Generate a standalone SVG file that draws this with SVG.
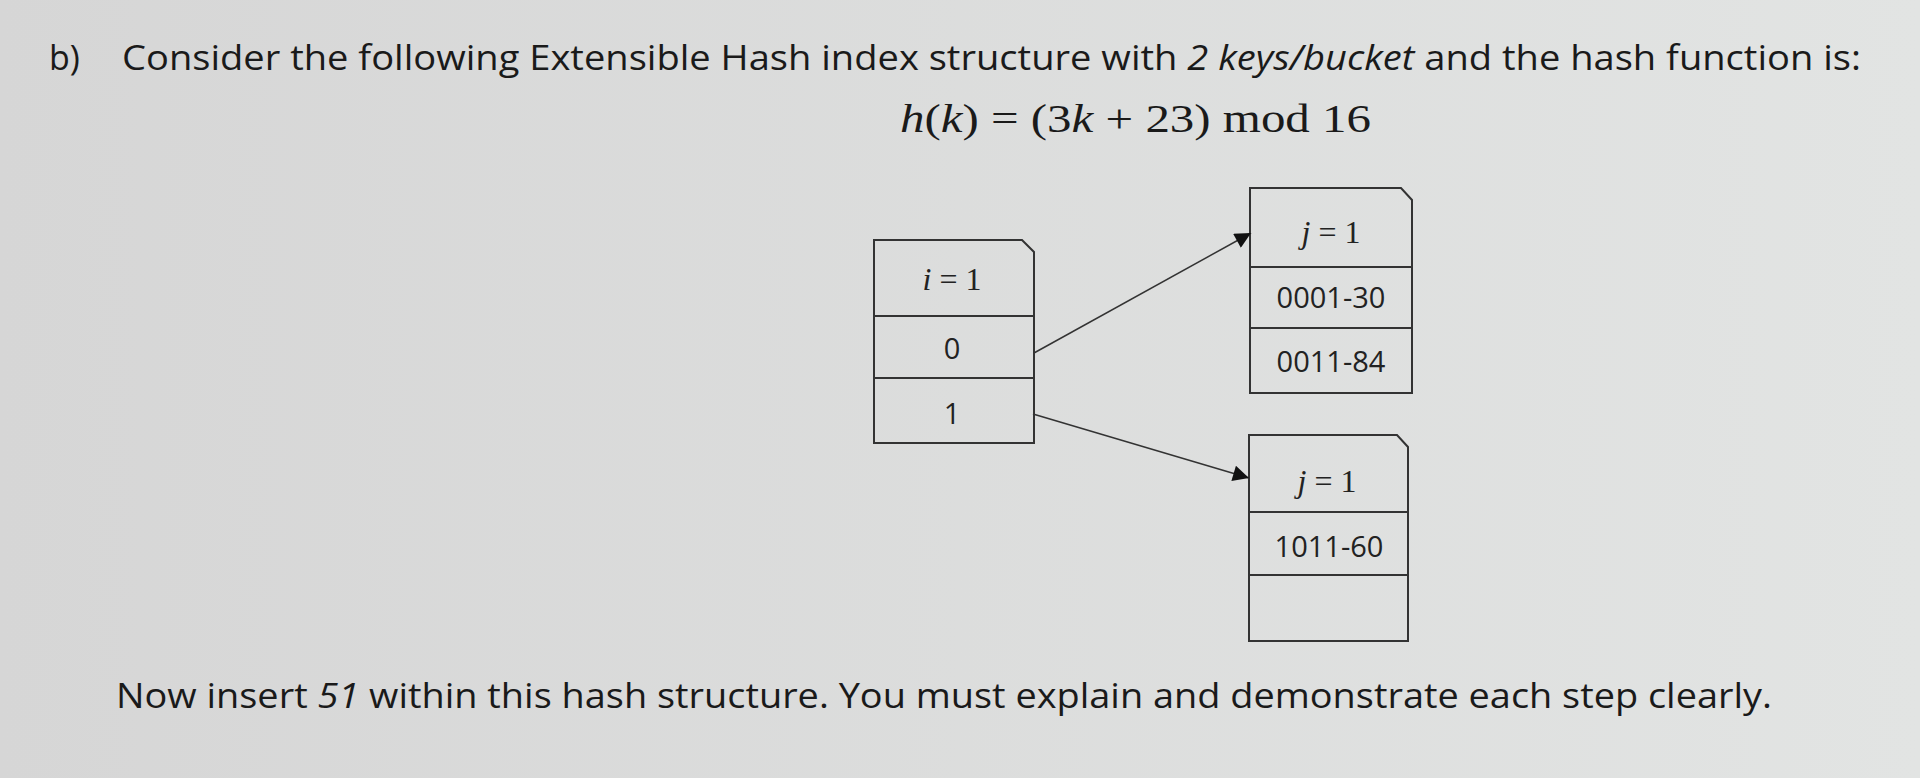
<svg xmlns="http://www.w3.org/2000/svg" width="1920" height="778" viewBox="0 0 1920 778">
<defs>
<linearGradient id="bg" x1="0" y1="0" x2="1" y2="0"><stop offset="0" stop-color="#d6d6d6"/><stop offset="1" stop-color="#e2e4e3"/></linearGradient>
<marker id="ah" viewBox="0 0 10 10" refX="10" refY="5" markerWidth="18" markerHeight="16" markerUnits="userSpaceOnUse" orient="auto"><path d="M0,0L10,5L0,10z" fill="#111"/></marker>
<style>
.t{font-family:"Open Sans","Liberation Sans",sans-serif;fill:#1a1a1a}
.m{font-family:"Liberation Serif",serif;fill:#1a1a1a}
.n{font-family:"Open Sans","Liberation Sans",sans-serif;font-size:29px;fill:#222;text-anchor:middle}
.s{font-family:"Liberation Serif",serif;font-size:32px;fill:#222;text-anchor:middle}
.b{fill:none;stroke:#333;stroke-width:2}
.c{stroke:#333;stroke-width:1.5;fill:none}
</style>
</defs>
<rect width="1920" height="778" fill="url(#bg)"/>
<text class="t" x="49" y="70" font-size="34">b)</text>
<text class="t" x="122" y="70" font-size="34" textLength="1739" lengthAdjust="spacingAndGlyphs">Consider the following Extensible Hash index structure with <tspan font-style="italic">2 keys/bucket</tspan> and the hash function is:</text>
<text class="m" x="900" y="132" font-size="40" textLength="471" lengthAdjust="spacingAndGlyphs"><tspan font-style="italic">h</tspan>(<tspan font-style="italic">k</tspan>) = (3<tspan font-style="italic">k</tspan> + 23) mod 16</text>
<g id="directory">
<path class="b" d="M874,240H1022L1034,252V443H874Z M874,316H1034 M874,378H1034"/>
<text class="s" x="952" y="290"><tspan font-style="italic">i</tspan> = 1</text>
<text class="n" x="952" y="359">0</text>
<text class="n" x="952" y="424">1</text>
</g>
<g id="bucket1">
<path class="b" d="M1250,188H1401L1412,200V393H1250Z M1250,267H1412 M1250,328H1412"/>
<text class="s" x="1331" y="243"><tspan font-style="italic">j</tspan> = 1</text>
<text class="n" x="1331" y="308">0001-30</text>
<text class="n" x="1331" y="372">0011-84</text>
</g>
<g id="bucket2">
<path class="b" d="M1249,435H1397L1408,447V641H1249Z M1249,512H1408 M1249,575H1408"/>
<text class="s" x="1327" y="492"><tspan font-style="italic">j</tspan> = 1</text>
<text class="n" x="1329" y="557">1011-60</text>
</g>
<g id="connectors">
<line class="c" x1="1034" y1="353" x2="1251" y2="233" marker-end="url(#ah)"/>
<line class="c" x1="1033" y1="414" x2="1249" y2="478" marker-end="url(#ah)"/>
</g>
<text class="t" x="116" y="708" font-size="34" textLength="1656" lengthAdjust="spacingAndGlyphs">Now insert <tspan font-style="italic">51</tspan> within this hash structure. You must explain and demonstrate each step clearly.</text>
</svg>
